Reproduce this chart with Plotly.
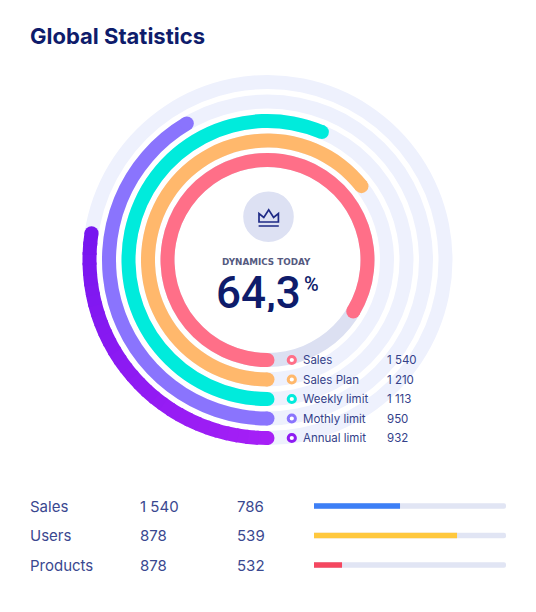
import plotly.graph_objects as go

W, H = 536, 612

# ring chart data
ring_labels = ["Sales", "Sales Plan", "Weekly limit", "Mothly limit", "Annual limit"]
ring_values = ["1 540", "1 210", "1 113", "950", "932"]
ring_share = [0.836, 0.644, 0.564, 0.415, 0.274]   # part of the circle filled
ring_colors = ["#FF6F88", "#FFB86C", "#00EBDC", "#8A74FD", "#8E1BF3"]
track_colors = ["#DCE0F2", "#EEF1FD", "#EEF1FD", "#EEF1FD", "#EEF1FD"]
annual_grad = ("#A61FF6", "#7716EF")   # bottom -> end of the outer arc

dynamics_today = "64,3"

# bottom table
table_labels = ["Sales", "Users", "Products"]
table_first = ["1 540", "878", "878"]
table_second = ["786", "539", "532"]
table_progress = [0.448, 0.745, 0.146]
table_colors = ["#3D7FF6", "#FFC83D", "#F5475F"]

navy = "#0E1C6B"
text_blue = "#34418A"

# ring geometry in pixels (polar radial unit = 1px)
cx, cy, R = 267.5, 260, 190
thick = 14
radii = [100 + 19.5 * i for i in range(len(ring_labels))]


def px(x):
    return x / W


def py(y):
    return (H - y) / H


def mix(c1, c2, t):
    a = [int(c1[i:i + 2], 16) for i in (1, 3, 5)]
    b = [int(c2[i:i + 2], 16) for i in (1, 3, 5)]
    return "#" + "".join(f"{round(x + (y - x) * t):02x}" for x, y in zip(a, b))


fig = go.Figure()

# full background tracks
fig.add_trace(go.Barpolar(
    r=[thick] * len(radii), base=[r - thick / 2 for r in radii],
    theta=[180] * len(radii), width=[360] * len(radii),
    marker=dict(color=track_colors, line=dict(width=0)),
    hoverinfo="skip", showlegend=False))

# value arcs starting at the bottom, running clockwise
n = len(radii) - 1
fig.add_trace(go.Barpolar(
    r=[thick] * n, base=[r - thick / 2 for r in radii[:n]],
    theta=[s * 180 for s in ring_share[:n]], width=[s * 360 for s in ring_share[:n]],
    marker=dict(color=ring_colors[:n], line=dict(width=0)),
    text=ring_labels[:n], hoverinfo="text", showlegend=False))

# outer arc drawn in small pieces for its colour gradient
steps = 30
span = ring_share[n] * 360
seg_t, seg_w, seg_c = [], [], []
for k in range(steps):
    seg_t.append(span * (k + 0.5) / steps)
    seg_w.append(span / steps + 0.8)
    seg_c.append(mix(annual_grad[0], annual_grad[1], (k + 0.5) / steps))
seg_t[-1] -= 0.4
fig.add_trace(go.Barpolar(
    r=[thick] * steps, base=[radii[n] - thick / 2] * steps,
    theta=seg_t, width=seg_w,
    marker=dict(color=seg_c, line=dict(width=0)),
    hoverinfo="skip", showlegend=False))

# round caps at both ends of each arc
cap_r, cap_t, cap_c = [], [], []
for i, (r, s, c) in enumerate(zip(radii, ring_share, ring_colors)):
    cap_r += [r, r]
    cap_t += [0, s * 360]
    cap_c += list(annual_grad) if i == n else [c, c]
fig.add_trace(go.Scatterpolar(
    r=cap_r, theta=cap_t, mode="markers",
    marker=dict(size=thick, color=cap_c, line=dict(width=0)),
    hoverinfo="skip", showlegend=False))

# bottom table progress bars
fig.add_trace(go.Bar(
    y=table_labels, x=[1] * len(table_labels), orientation="h",
    marker=dict(color="#E1E5F4", line=dict(width=0)), width=0.18,
    xaxis="x", yaxis="y", hoverinfo="skip", showlegend=False))
fig.add_trace(go.Bar(
    y=table_labels, x=table_progress, orientation="h",
    marker=dict(color=table_colors, line=dict(width=0)), width=0.18,
    xaxis="x", yaxis="y", showlegend=False))

row_h = 29.5
tb_top, tb_bot = 506 - row_h / 2, 565 + row_h / 2
lg_top, lg_bot = radii[0] + cy - 9.75, radii[-1] + cy + 9.75

fig.update_layout(
    width=W, height=H,
    margin=dict(l=0, r=0, t=0, b=0),
    paper_bgcolor="white", plot_bgcolor="rgba(0,0,0,0)",
    barmode="overlay", barcornerradius=3,
    polar=dict(
        domain=dict(x=[px(cx - R), px(cx + R)], y=[py(cy + R), py(cy - R)]),
        bgcolor="rgba(0,0,0,0)", hole=0,
        radialaxis=dict(range=[0, R], visible=False),
        angularaxis=dict(rotation=270, direction="clockwise", visible=False),
    ),
    xaxis=dict(domain=[px(314), px(506)], range=[0, 1], visible=False, fixedrange=True),
    yaxis=dict(domain=[py(tb_bot), py(tb_top)], range=[2.5, -0.5], type="category",
               visible=False, fixedrange=True),
    xaxis2=dict(domain=[px(282), px(302)], range=[-1, 1], visible=False, anchor="y2"),
    yaxis2=dict(domain=[py(lg_bot), py(lg_top)], range=[4.5, -0.5], type="category",
                categoryarray=ring_labels, visible=False, anchor="x2"),
    font=dict(family="Inter, Roboto, sans-serif"),
)

# ring legend: hollow dots, labels and values
shapes = []
annotations = []
for i, (lab, val, col) in enumerate(zip(ring_labels, ring_values, ring_colors)):
    shapes.append(dict(type="circle", xref="x2", yref="y2", layer="above",
                       xsizemode="pixel", ysizemode="pixel", xanchor=-0.02, yanchor=i,
                       x0=-3.6, x1=3.6, y0=-3.6, y1=3.6,
                       fillcolor="white", line=dict(color=col, width=3)))
    annotations.append(dict(text=lab, xref="paper", yref="y2", x=px(300.5), y=i,
                            xanchor="left", yanchor="middle", showarrow=False,
                            font=dict(size=11.5, color=text_blue)))
    annotations.append(dict(text=val, xref="paper", yref="y2", x=px(384.5), y=i,
                            xanchor="left", yanchor="middle", showarrow=False,
                            font=dict(size=11.5, color=text_blue)))

# bottom table texts
for i, lab in enumerate(table_labels):
    for txt, x in [(lab, 28), (table_first[i], 138), (table_second[i], 235)]:
        annotations.append(dict(text=txt, xref="paper", yref="y", x=px(x), y=i,
                                xanchor="left", yanchor="middle", showarrow=False,
                                font=dict(size=15, color="#3A4890")))

# centre badge with crown icon
bx, by, br = 268.5, 216.7, 25.3
shapes.append(dict(type="circle", xref="paper", yref="paper", layer="above",
                   x0=px(bx - br), x1=px(bx + br), y0=py(by + br), y1=py(by - br),
                   fillcolor="#DDE1F3", line=dict(width=0)))
crown = [(259, 222), (259, 213.5), (263.8, 217.5), (268.7, 209.8), (273.6, 217.5),
         (278.4, 213.5), (278.4, 222)]
path = "M " + " L ".join(f"{px(x)},{py(y)}" for x, y in crown) + " Z"
path += f" M {px(258.6)},{py(226)} L {px(278.8)},{py(226)}"
shapes.append(dict(type="path", xref="paper", yref="paper", layer="above", path=path,
                   line=dict(color="#1E2A86", width=1.7)))

annotations += [
    dict(text="Global Statistics", xref="paper", yref="paper", x=px(28), y=py(35.5),
         xanchor="left", yanchor="middle", showarrow=False,
         font=dict(size=22, color=navy, weight=700)),
    dict(text="DYNAMICS TODAY", xref="paper", yref="paper", x=px(266.7), y=py(262),
         xanchor="center", yanchor="middle", showarrow=False, height=10,
         font=dict(family="DejaVu Sans", size=8.8, color="#555A80", weight=700)),
    dict(text=dynamics_today, xref="paper", yref="paper", x=px(258.5), y=py(292.5),
         xanchor="center", yanchor="middle", showarrow=False, height=38,
         font=dict(family="Roboto", size=44, color=navy, weight=500)),
    dict(text="%", xref="paper", yref="paper", x=px(302), y=py(284),
         xanchor="left", yanchor="middle", showarrow=False, height=18,
         font=dict(family="Roboto", size=20, color=navy, weight=500)),
]

fig.update_layout(shapes=shapes, annotations=annotations)

fig.write_html("out.html", config={"displayModeBar": False},
               post_script="document.body.style.margin='0';")
